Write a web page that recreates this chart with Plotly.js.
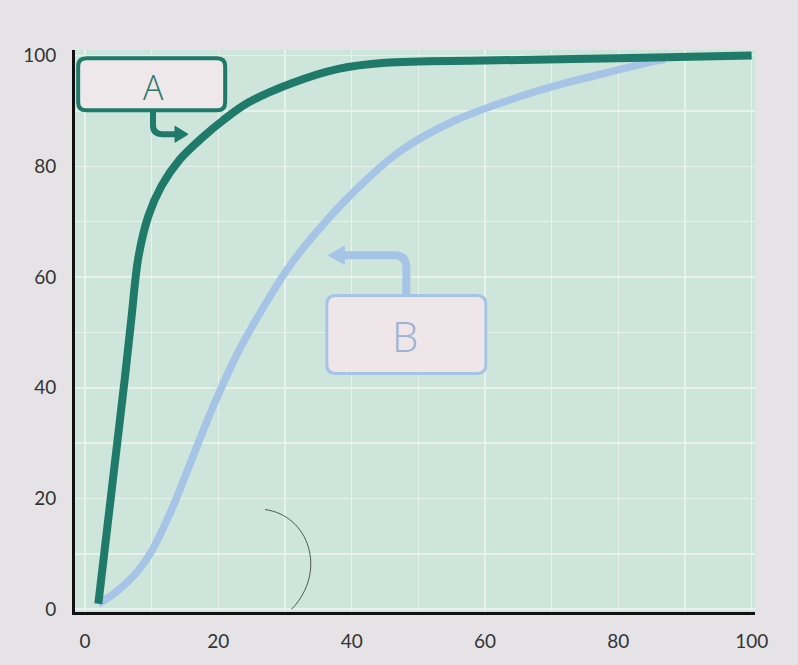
<!DOCTYPE html>
<html>
<head>
<meta charset="utf-8">
<script src="https://cdn.plot.ly/plotly-3.0.1.min.js"></script>
<style>
  html, body { margin: 0; padding: 0; background: #e5e3e6; }
  #plot { width: 798px; height: 665px; }
</style>
</head>
<body>
<div id="plot"></div>
<script>
// curve A: fast rise then flat
var xA = [2, 4, 6, 7, 8, 9.5, 11.5, 14.2, 17.7, 20.7, 24.5, 31, 38, 45, 60, 80, 100];
var yA = [1, 21.5, 42, 53, 63.5, 71, 76.5, 81.2, 85.3, 88.3, 91.5, 95, 97.6, 98.7, 99.1, 99.5, 100];

// curve B: slow S-shaped rise
var xB = [2, 4, 6, 8, 10, 13, 16, 19, 23, 27.5, 31, 35, 40, 47, 55, 65, 72, 78, 84, 87];
var yB = [1, 2.5, 4.5, 7, 10.5, 18, 27, 36, 46.5, 56, 62.5, 68.5, 75, 82.5, 88, 92.5, 95, 96.8, 98.6, 99.3];

var tickVals = [0, 20, 40, 60, 80, 100];

var colA = '#1f7a6a';
var colB = '#a6c4e6';

// rounded rectangle path in pixels, centred on its anchor
function roundRect(w, h, r) {
  var a = w / 2, b = h / 2;
  return 'M ' + (-a + r) + ',' + (-b) + ' L ' + (a - r) + ',' + (-b) +
    ' Q ' + a + ',' + (-b) + ' ' + a + ',' + (-b + r) +
    ' L ' + a + ',' + (b - r) + ' Q ' + a + ',' + b + ' ' + (a - r) + ',' + b +
    ' L ' + (-a + r) + ',' + b + ' Q ' + (-a) + ',' + b + ' ' + (-a) + ',' + (b - r) +
    ' L ' + (-a) + ',' + (-b + r) + ' Q ' + (-a) + ',' + (-b) + ' ' + (-a + r) + ',' + (-b) + ' Z';
}

function pixShape(xa, ya, path, line, fill) {
  return {
    type: 'path', xref: 'x', yref: 'y',
    xsizemode: 'pixel', ysizemode: 'pixel',
    xanchor: xa, yanchor: ya,
    path: path, line: line, fillcolor: fill || 'rgba(0,0,0,0)', layer: 'above'
  };
}

var traceB = {
  x: xB, y: yB, type: 'scatter', mode: 'lines',
  line: {color: colB, width: 7.5, shape: 'spline', smoothing: 1},
  hoverinfo: 'skip', showlegend: false
};
var traceA = {
  x: xA, y: yA, type: 'scatter', mode: 'lines',
  line: {color: colA, width: 8, shape: 'spline', smoothing: 1},
  hoverinfo: 'skip', showlegend: false
};

var shapes = [
  // box A and its elbow arrow
  pixShape(10, 94.8, roundRect(147, 52, 8), {color: colA, width: 4}, '#eee8eb'),
  pixShape(10.2, 90.3, 'M 0,0 L 0,-16 Q 0,-25 10,-25 L 24,-25', {color: colA, width: 6}),
  pixShape(10.2, 90.3, 'M 22,-17 L 35,-25 L 22,-33 Z', {color: colA, width: 1}, colA),
  // box B and its elbow arrow
  pixShape(48.2, 49.6, roundRect(159, 78, 9), {color: colB, width: 3}, '#efe6ea'),
  pixShape(48.2, 56.7, 'M 0,0 L 0,28 Q 0,40 -12,40 L -64,40', {color: colB, width: 8}),
  pixShape(48.2, 56.7, 'M -62,49 L -78,40 L -62,31 Z', {color: colB, width: 1}, colB),
  // thin pen mark in the photo
  {type: 'path', xref: 'x', yref: 'y', path: 'M 27,18 C 33.5,17 36.5,7 31,0',
   line: {color: '#4a5a55', width: 1}, layer: 'above'}
];

var annotations = [
  {x: 10.2, y: 94.3, xref: 'x', yref: 'y', text: 'A', showarrow: false,
   font: {family: 'Open Sans, sans-serif', size: 34, color: '#2a7565', weight: 300}},
  {x: 48.0, y: 49.4, xref: 'x', yref: 'y', text: 'B', showarrow: false,
   font: {family: 'Open Sans, sans-serif', size: 42, color: '#9cb3d2', weight: 300}}
];

var layout = {
  width: 798, height: 665,
  margin: {l: 75, r: 43, t: 50, b: 53},
  paper_bgcolor: '#e5e3e6',
  plot_bgcolor: '#cde5da',
  font: {family: 'Lato, sans-serif', size: 19, color: '#333333'},
  xaxis: {
    range: [-1.5, 100.5], tickvals: tickVals, ticks: '',
    showgrid: true, gridcolor: '#e8f2ed', gridwidth: 1.5,
    minor: {dtick: 10, showgrid: true, gridcolor: '#e8f2ed', gridwidth: 1.5},
    zeroline: false, showline: true, linecolor: '#111', linewidth: 3,
    ticklabelstandoff: 10, fixedrange: true
  },
  yaxis: {
    range: [-0.5, 101], tickvals: tickVals, ticks: '',
    showgrid: true, gridcolor: '#e8f2ed', gridwidth: 1.5,
    minor: {dtick: 10, showgrid: true, gridcolor: '#e8f2ed', gridwidth: 1.5},
    zeroline: false, showline: true, linecolor: '#111', linewidth: 3,
    ticklabelstandoff: 12, fixedrange: true
  },
  shapes: shapes,
  annotations: annotations,
  showlegend: false
};

Plotly.newPlot('plot', [traceB, traceA], layout, {displayModeBar: false, staticPlot: true});
</script>
</body>
</html>
